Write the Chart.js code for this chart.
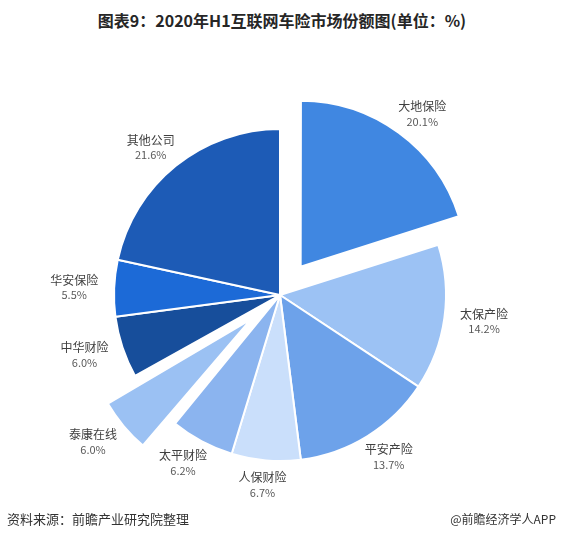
<!DOCTYPE html>
<html lang="zh">
  <head>
    <meta charset="UTF-8" />
    <title>2020年H1互联网车险市场份额图</title>
    <script src="https://cdn.jsdelivr.net/npm/chart.js"></script>
    <style>
      html, body { margin: 0; padding: 0; background: #fff; }
      body { width: 561px; height: 539px; position: relative; overflow: hidden;
        font-family: "Noto Sans CJK SC", "Noto Sans", sans-serif; }
      .title { position: absolute; top: 8px; left: 0; width: 564px; text-align: center;
        font-size: 16px; font-weight: bold; color: #262626; }
      .source { position: absolute; top: 509px; left: 7px; font-size: 13px; color: #333; }
      .brand { position: absolute; top: 510px; right: 5px; font-size: 12px; color: #333; }
      #chart { position: absolute; left: 0; top: 0; }
    </style>
  </head>
  <body>
    <div class="title">图表9：2020年H1互联网车险市场份额图(单位：%)</div>
    <canvas id="chart" width="561" height="539"></canvas>
    <div class="source">资料来源：前瞻产业研究院整理</div>
    <div class="brand">@前瞻经济学人APP</div>

    <script>
      const companies = ["大地保险", "太保产险", "平安产险", "人保财险", "太平财险", "泰康在线", "中华财险", "华安保险", "其他公司"];
      const shares = [20.1, 14.2, 13.7, 6.7, 6.2, 6.0, 6.0, 5.5, 21.6];
      const colors = ["#4087E1", "#9CC2F4", "#6DA2EA", "#CADFFB", "#8BB4EF", "#9BC1F3", "#174E9B", "#1C6AD7", "#1D5BB6"];
      // pulled-out slices (chart.js moves an arc by offset / 4)
      const offsets = [140, 0, 0, 0, 0, 152, 0, 0, 0];

      // chart.js grows small offset arcs; undo that so they keep the pie radius
      const keepRadius = {
        id: "keepRadius",
        afterDatasetUpdate(chart, args) {
          args.meta.data.forEach((arc, i) => {
            const off = (offsets[i] || 0) / 4;
            if (!off) return;
            const circ = arc.endAngle - arc.startAngle;
            arc.outerRadius -= off * (1 - Math.sin(Math.min(Math.PI, circ)));
          });
        },
      };

      const sliceLabels = {
        id: "sliceLabels",
        afterDatasetsDraw(chart) {
          const ctx = chart.ctx;
          const meta = chart.getDatasetMeta(0);
          ctx.save();
          ctx.textAlign = "center";
          ctx.textBaseline = "middle";
          meta.data.forEach((arc, i) => {
            const mid = (arc.startAngle + arc.endAngle) / 2;
            const off = (offsets[i] || 0) / 4;
            const cx = arc.x + Math.cos(mid) * off;
            const cy = arc.y + Math.sin(mid) * off;
            const x = cx + Math.cos(mid) * 206;
            const y = cy + Math.sin(mid) * 190;
            ctx.fillStyle = "#404040";
            ctx.font = '12px "Noto Sans CJK SC"';
            ctx.fillText(companies[i], x, y - 7);
            ctx.fillStyle = "#595959";
            ctx.font = '11px "Noto Sans CJK SC"';
            ctx.fillText(shares[i].toFixed(1) + "%", x, y + 8);
          });
          ctx.restore();
        },
      };

      new Chart(document.getElementById("chart"), {
        type: "pie",
        data: {
          labels: companies,
          datasets: [
            {
              data: shares,
              backgroundColor: colors,
              borderColor: "#ffffff",
              borderWidth: 2,
              offset: offsets,
            },
          ],
        },
        options: {
          responsive: false,
          animation: false,
          radius: 166,
          layout: { padding: { top: 51, bottom: 0, left: 0, right: 1 } },
          plugins: {
            legend: { display: false },
            tooltip: { enabled: false },
          },
        },
        plugins: [keepRadius, sliceLabels],
      });
    </script>
  </body>
</html>
